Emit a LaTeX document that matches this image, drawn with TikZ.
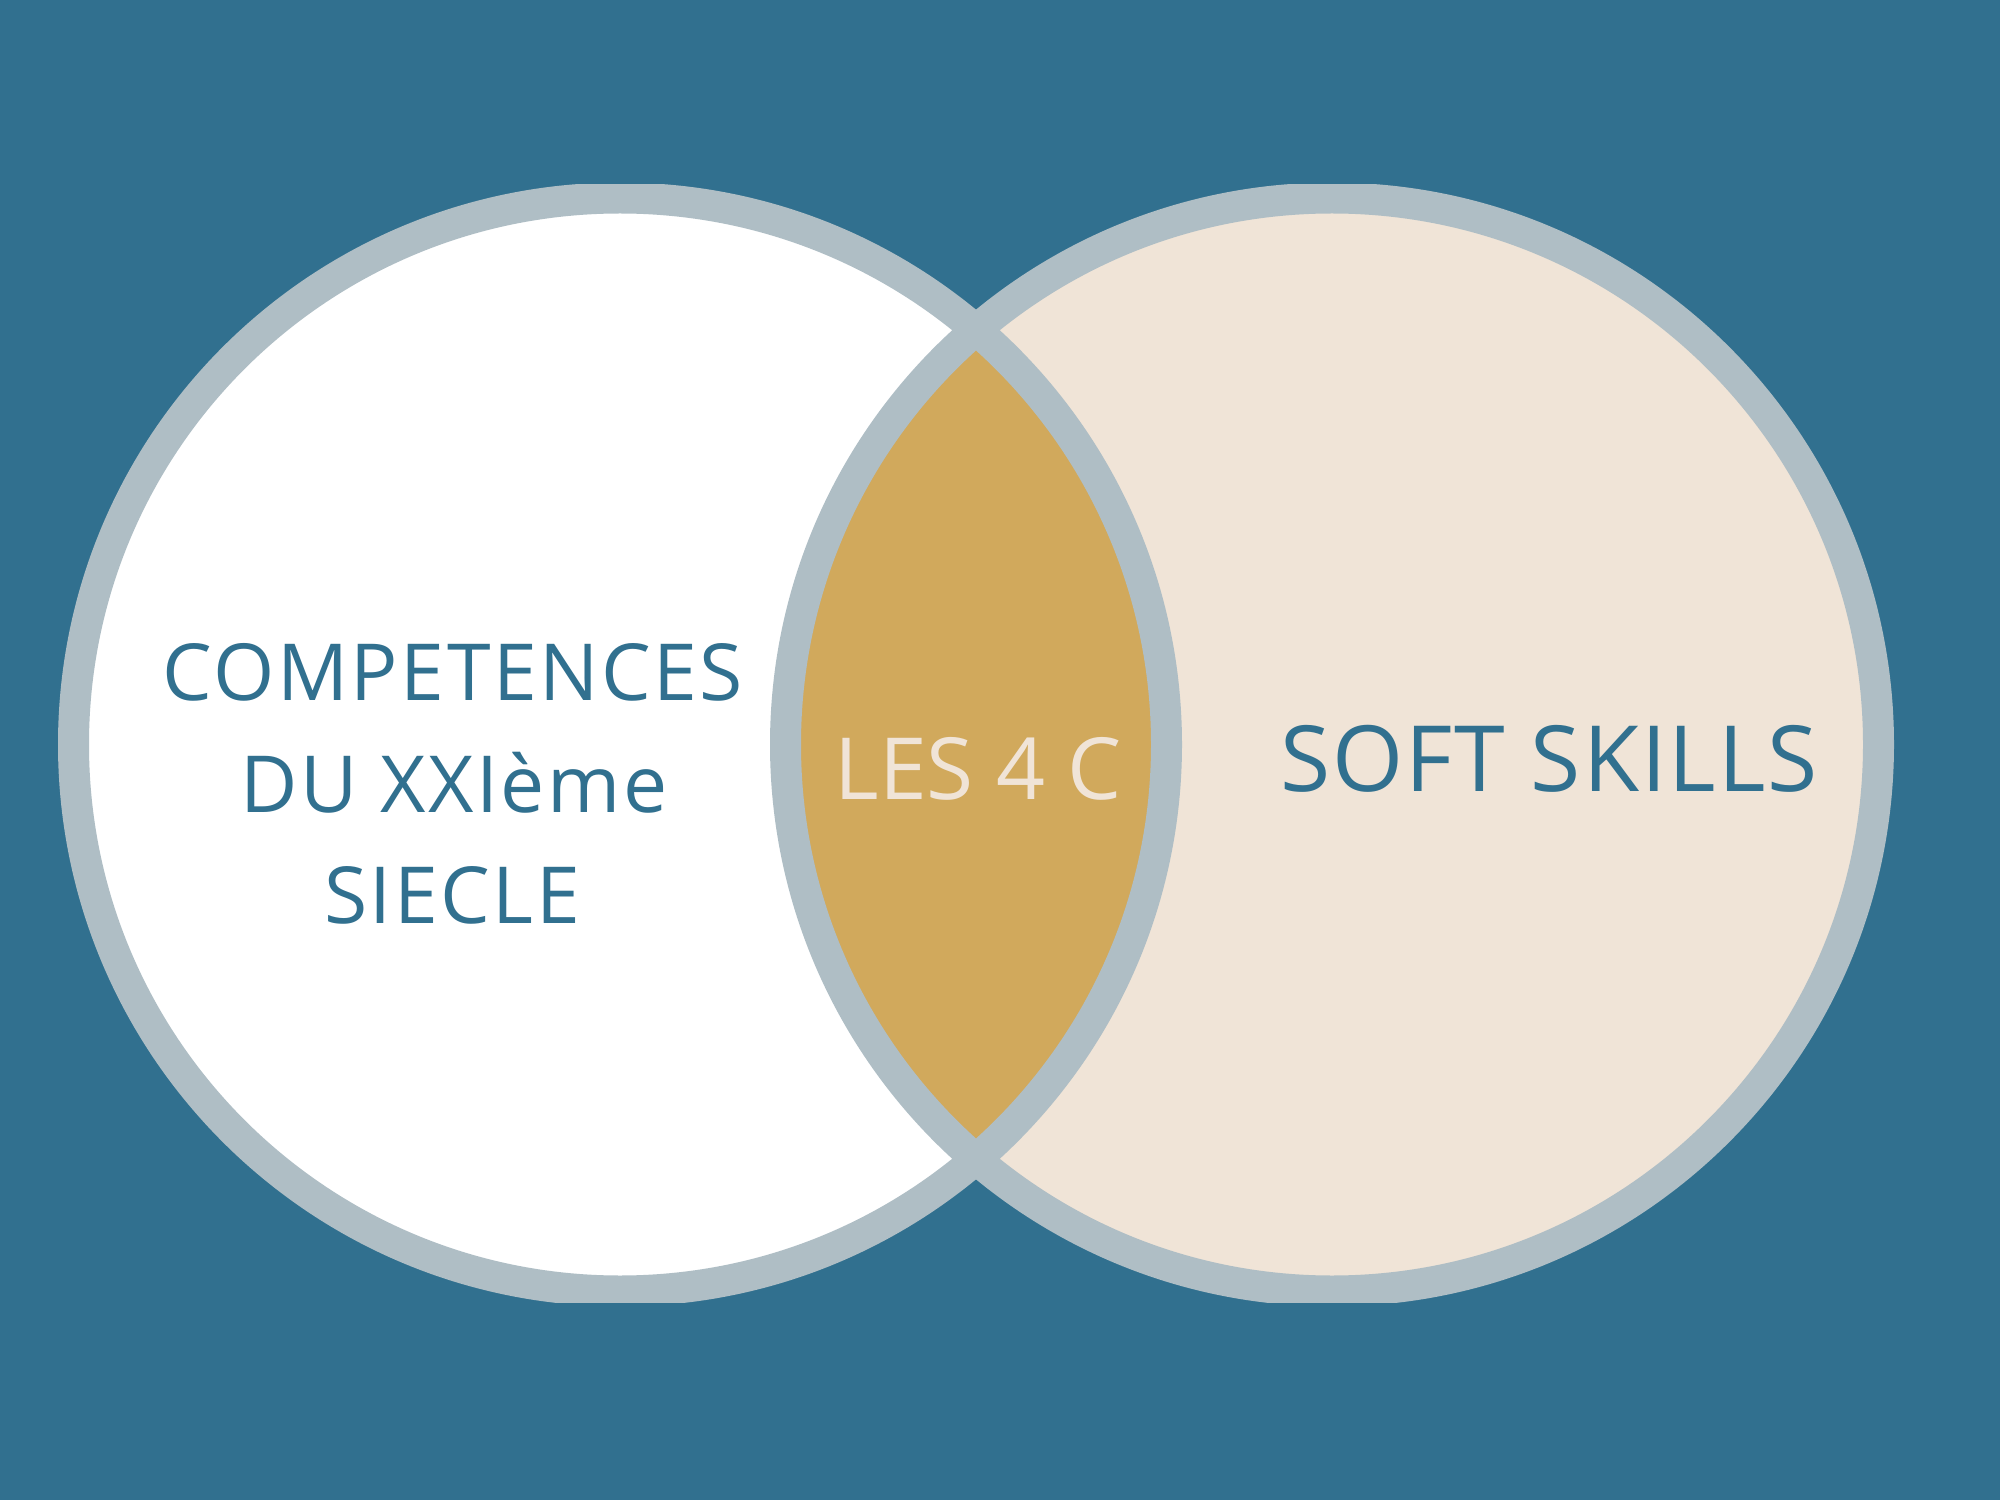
\documentclass[tikz,border=0pt]{standalone}
\usepackage{fontspec}
\setmainfont{Open Sans}
\definecolor{bgblue}{HTML}{31708F}
\definecolor{ringgrey}{HTML}{AFBEC5}
\definecolor{cream}{HTML}{F0E4D7}
\definecolor{gold}{HTML}{D1A95C}
\begin{document}
\begin{tikzpicture}[
        ring/.style={draw=ringgrey,line width=0.31cm},
        label/.style={anchor=base,text=bgblue,inner sep=0pt},
        leftlabel/.style={label,font=\fontsize{22.4pt}{31.8pt}\selectfont\addfontfeature{LetterSpace=3.2}}
    ]
    % Hintergrund
    \useasboundingbox (0, 0) rectangle (20, 15);
    \fill[bgblue] (0, 0) rectangle (20, 15);

    \coordinate (1) at (6.2, 7.555);
    \coordinate (2) at (13.32, 7.555);

    \begin{scope}
        \clip (0, 1.98) rectangle (20, 13.15);

        % Kreise
        \fill[white] (1) circle (5.465cm);
        \fill[cream] (2) circle (5.465cm);

        % Schnittmenge
        \begin{scope}
            \clip (1) circle (5.465cm);
            \fill[gold] (2) circle (5.465cm);
        \end{scope}

        % Ringe
        \draw[ring] (1) circle (5.465cm);
        \draw[ring] (2) circle (5.465cm);
    \end{scope}

    % Beschriftung
    \node[leftlabel] (comp) at (4.53, 8.0) {COMPETENCES};
    \node[leftlabel] (du) at (4.54, 6.875) {DU XXIème};
    \node[leftlabel] (siecle) at (4.52, 5.765) {SIECLE};
    \node[label,text=cream,font=\fontsize{24.4pt}{30pt}\selectfont] (les) at (9.78, 7.0) {LES 4 C};
    \node[label,font=\fontsize{26pt}{30pt}\selectfont\addfontfeature{LetterSpace=2.2}] (soft) at (15.49, 7.09) {SOFT SKILLS};
\end{tikzpicture}
\end{document}
